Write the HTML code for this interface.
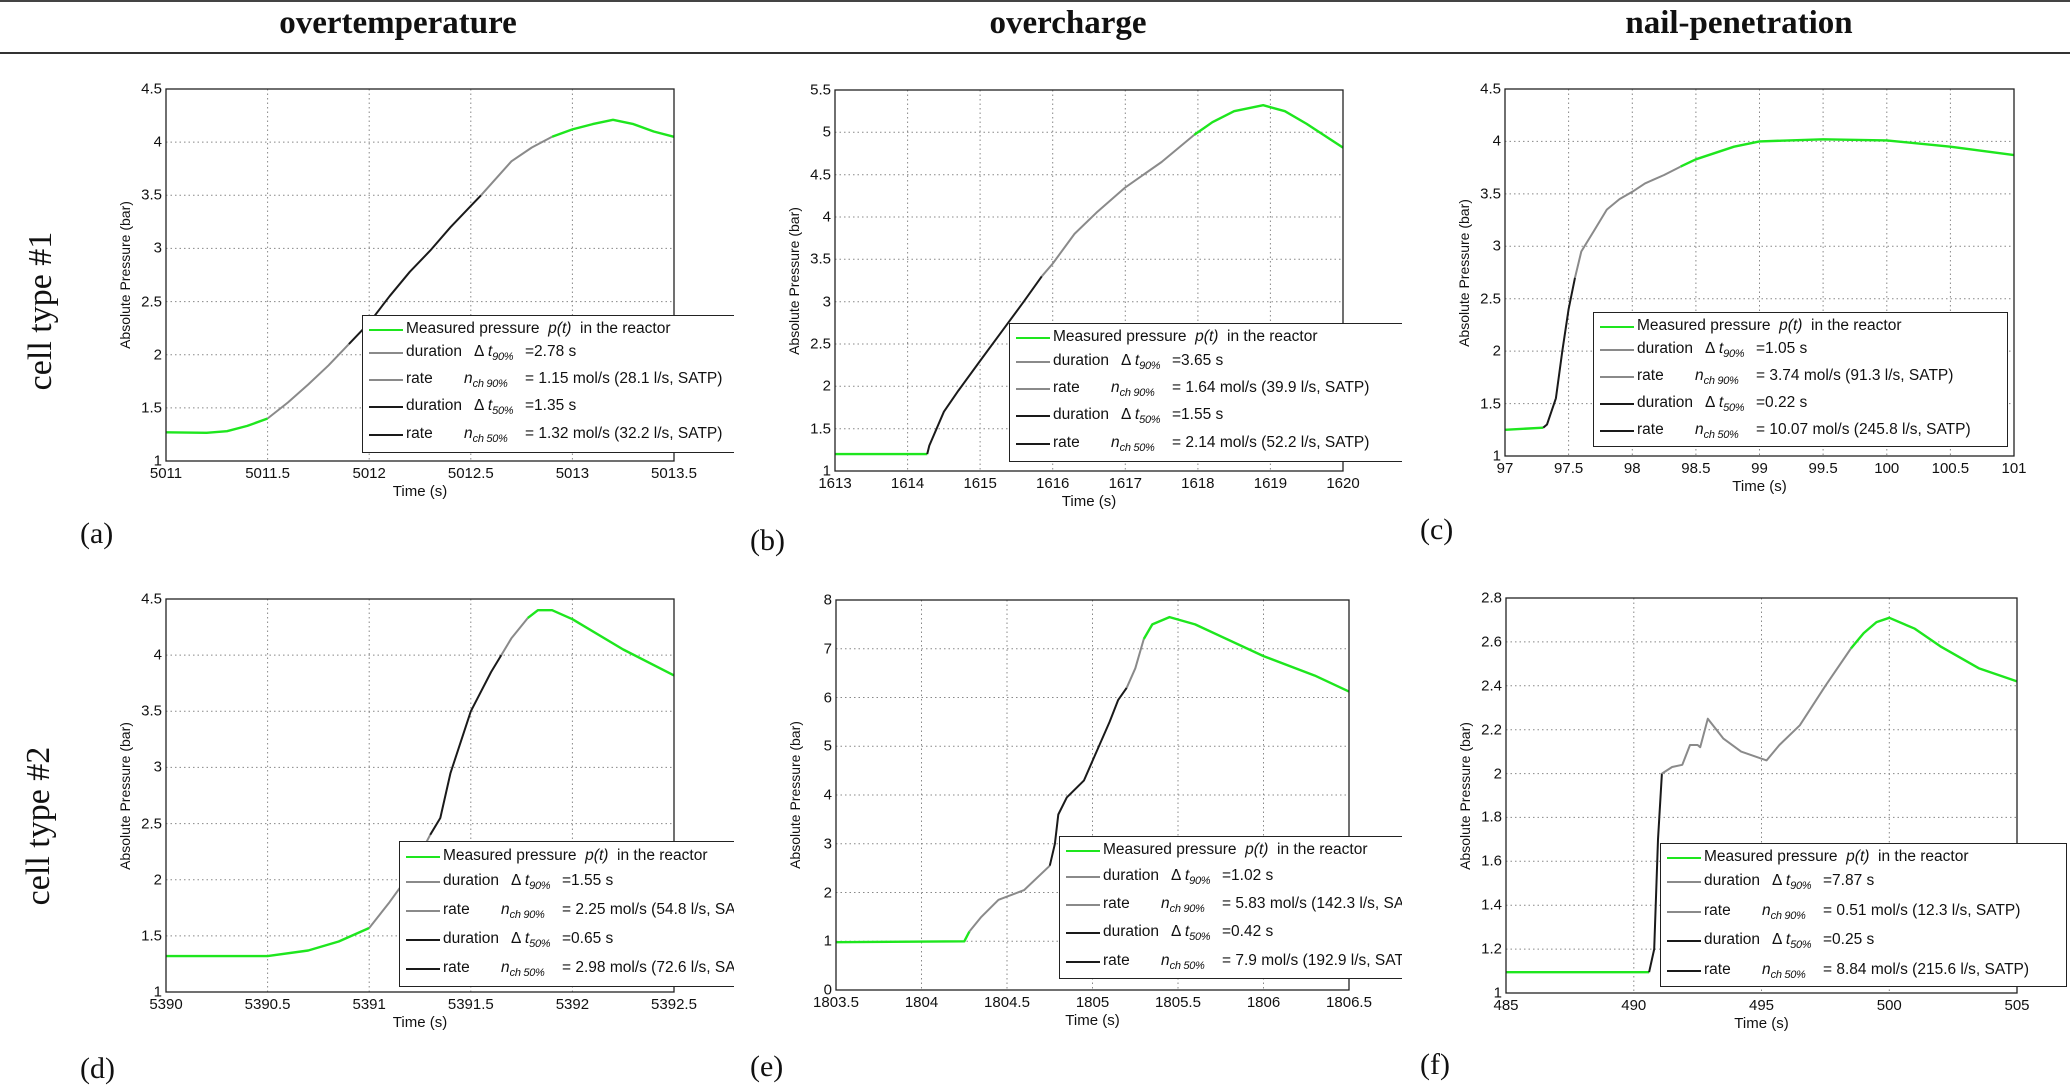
<!DOCTYPE html>
<html><head><meta charset="utf-8">
<style>
body{margin:0;width:2070px;height:1090px;position:relative;overflow:hidden;background:#fff;font-family:"Liberation Sans",Arial,sans-serif;color:#111}
.t{position:absolute;white-space:nowrap}
.yt,.xt{position:absolute;font-size:15px;white-space:nowrap;line-height:15px}
.yt{transform:translate(-100%,-50%)}
.xt{transform:translate(-50%,0)}
.xl{position:absolute;font-size:15px;transform:translate(-50%,0);white-space:nowrap}
.yl{position:absolute;font-size:14px;transform:translate(-50%,-50%) rotate(-90deg);white-space:nowrap}
.ttl{position:absolute;top:5px;font:bold 33px "Liberation Serif",serif;transform:translateX(-50%);white-space:nowrap}
.cell{position:absolute;font:34px "Liberation Serif",serif;transform:translate(-50%,-50%) rotate(-90deg);white-space:nowrap}
.lab{position:absolute;font:30px "Liberation Serif",serif;white-space:nowrap}
.lg{position:absolute;background:#fff;border:1.5px solid #222;overflow:hidden;font-size:15.5px;box-sizing:border-box}
.r{position:absolute;left:0;height:0;width:100%}
.r .ln{position:absolute;left:6px;width:34px;top:-1px;height:2px}
.r span{position:absolute;top:-10px;white-space:nowrap;line-height:18px}
.r .a{left:43px}.r .b{left:111px}.r .n{left:101px}.r .c{left:162px}
sub{font-size:11px;font-style:italic;position:relative;top:4px;vertical-align:baseline;letter-spacing:-0.3px}
i{font-style:italic}
</style></head><body>
<div style="position:absolute;left:0;top:0;width:2070px;height:2px;background:#444"></div>
<div style="position:absolute;left:0;top:52px;width:2070px;height:2px;background:#333"></div>
<div class="ttl" style="left:398px">overtemperature</div>
<div class="ttl" style="left:1068px">overcharge</div>
<div class="ttl" style="left:1739px">nail-penetration</div>
<div class="cell" style="left:41px;top:311px">cell type #1</div>
<div class="cell" style="left:39px;top:826px">cell type #2</div>
<div class="lab" style="left:80px;top:517px">(a)</div>
<div class="lab" style="left:750px;top:524px">(b)</div>
<div class="lab" style="left:1420px;top:513px">(c)</div>
<div class="lab" style="left:80px;top:1052px">(d)</div>
<div class="lab" style="left:750px;top:1050px">(e)</div>
<div class="lab" style="left:1420px;top:1048px">(f)</div>

<svg id="sv" width="2070" height="1090" style="position:absolute;left:0;top:0"></svg>

<div id="pa"><span class="yt">1</span><span class="yt">1.5</span><span class="yt">2</span><span class="yt">2.5</span><span class="yt">3</span><span class="yt">3.5</span><span class="yt">4</span><span class="yt">4.5</span>
<span class="xt">5011</span><span class="xt">5011.5</span><span class="xt">5012</span><span class="xt">5012.5</span><span class="xt">5013</span><span class="xt">5013.5</span>
<span class="xl">Time (s)</span><span class="yl">Absolute Pressure (bar)</span></div>
<div id="pb"><span class="yt">1</span><span class="yt">1.5</span><span class="yt">2</span><span class="yt">2.5</span><span class="yt">3</span><span class="yt">3.5</span><span class="yt">4</span><span class="yt">4.5</span><span class="yt">5</span><span class="yt">5.5</span>
<span class="xt">1613</span><span class="xt">1614</span><span class="xt">1615</span><span class="xt">1616</span><span class="xt">1617</span><span class="xt">1618</span><span class="xt">1619</span><span class="xt">1620</span>
<span class="xl">Time (s)</span><span class="yl">Absolute Pressure (bar)</span></div>
<div id="pc"><span class="yt">1</span><span class="yt">1.5</span><span class="yt">2</span><span class="yt">2.5</span><span class="yt">3</span><span class="yt">3.5</span><span class="yt">4</span><span class="yt">4.5</span>
<span class="xt">97</span><span class="xt">97.5</span><span class="xt">98</span><span class="xt">98.5</span><span class="xt">99</span><span class="xt">99.5</span><span class="xt">100</span><span class="xt">100.5</span><span class="xt">101</span>
<span class="xl">Time (s)</span><span class="yl">Absolute Pressure (bar)</span></div>
<div id="pd"><span class="yt">1</span><span class="yt">1.5</span><span class="yt">2</span><span class="yt">2.5</span><span class="yt">3</span><span class="yt">3.5</span><span class="yt">4</span><span class="yt">4.5</span>
<span class="xt">5390</span><span class="xt">5390.5</span><span class="xt">5391</span><span class="xt">5391.5</span><span class="xt">5392</span><span class="xt">5392.5</span>
<span class="xl">Time (s)</span><span class="yl">Absolute Pressure (bar)</span></div>
<div id="pe"><span class="yt">0</span><span class="yt">1</span><span class="yt">2</span><span class="yt">3</span><span class="yt">4</span><span class="yt">5</span><span class="yt">6</span><span class="yt">7</span><span class="yt">8</span>
<span class="xt">1803.5</span><span class="xt">1804</span><span class="xt">1804.5</span><span class="xt">1805</span><span class="xt">1805.5</span><span class="xt">1806</span><span class="xt">1806.5</span>
<span class="xl">Time (s)</span><span class="yl">Absolute Pressure (bar)</span></div>
<div id="pf"><span class="yt">1</span><span class="yt">1.2</span><span class="yt">1.4</span><span class="yt">1.6</span><span class="yt">1.8</span><span class="yt">2</span><span class="yt">2.2</span><span class="yt">2.4</span><span class="yt">2.6</span><span class="yt">2.8</span>
<span class="xt">485</span><span class="xt">490</span><span class="xt">495</span><span class="xt">500</span><span class="xt">505</span>
<span class="xl">Time (s)</span><span class="yl">Absolute Pressure (bar)</span></div>

<div class="lg" style="left:362px;top:315px;width:372px;height:138px;border-right:none">
<div class="r" style="top:14px"><div class="ln" style="background:#1ee61e"></div><span class="a">Measured pressure&nbsp; <i>p(t)</i>&nbsp; in the reactor</span></div>
<div class="r" style="top:37px"><div class="ln" style="background:#8a8a8a"></div><span class="a">duration</span><span class="b">Δ <i>t</i><sub>90%</sub></span><span class="c">=2.78 s</span></div>
<div class="r" style="top:64px"><div class="ln" style="background:#8a8a8a"></div><span class="a">rate</span><span class="n"><i>n</i><sub>ch 90%</sub></span><span class="c">= 1.15 mol/s (28.1 l/s, SATP)</span></div>
<div class="r" style="top:91px"><div class="ln" style="background:#1a1a1a"></div><span class="a">duration</span><span class="b">Δ <i>t</i><sub>50%</sub></span><span class="c">=1.35 s</span></div>
<div class="r" style="top:119px"><div class="ln" style="background:#1a1a1a"></div><span class="a">rate</span><span class="n"><i>n</i><sub>ch 50%</sub></span><span class="c">= 1.32 mol/s (32.2 l/s, SATP)</span></div>
</div>
<div class="lg" style="left:1009px;top:323px;width:393px;height:139px;border-right:none">
<div class="r" style="top:14px"><div class="ln" style="background:#1ee61e"></div><span class="a">Measured pressure&nbsp; <i>p(t)</i>&nbsp; in the reactor</span></div>
<div class="r" style="top:38px"><div class="ln" style="background:#8a8a8a"></div><span class="a">duration</span><span class="b">Δ <i>t</i><sub>90%</sub></span><span class="c">=3.65 s</span></div>
<div class="r" style="top:65px"><div class="ln" style="background:#8a8a8a"></div><span class="a">rate</span><span class="n"><i>n</i><sub>ch 90%</sub></span><span class="c">= 1.64 mol/s (39.9 l/s, SATP)</span></div>
<div class="r" style="top:92px"><div class="ln" style="background:#1a1a1a"></div><span class="a">duration</span><span class="b">Δ <i>t</i><sub>50%</sub></span><span class="c">=1.55 s</span></div>
<div class="r" style="top:120px"><div class="ln" style="background:#1a1a1a"></div><span class="a">rate</span><span class="n"><i>n</i><sub>ch 50%</sub></span><span class="c">= 2.14 mol/s (52.2 l/s, SATP)</span></div>
</div>
<div class="lg" style="left:1593px;top:312px;width:415px;height:135px">
<div class="r" style="top:14px"><div class="ln" style="background:#1ee61e"></div><span class="a">Measured pressure&nbsp; <i>p(t)</i>&nbsp; in the reactor</span></div>
<div class="r" style="top:37px"><div class="ln" style="background:#8a8a8a"></div><span class="a">duration</span><span class="b">Δ <i>t</i><sub>90%</sub></span><span class="c">=1.05 s</span></div>
<div class="r" style="top:64px"><div class="ln" style="background:#8a8a8a"></div><span class="a">rate</span><span class="n"><i>n</i><sub>ch 90%</sub></span><span class="c">= 3.74 mol/s (91.3 l/s, SATP)</span></div>
<div class="r" style="top:91px"><div class="ln" style="background:#1a1a1a"></div><span class="a">duration</span><span class="b">Δ <i>t</i><sub>50%</sub></span><span class="c">=0.22 s</span></div>
<div class="r" style="top:118px"><div class="ln" style="background:#1a1a1a"></div><span class="a">rate</span><span class="n"><i>n</i><sub>ch 50%</sub></span><span class="c">= 10.07 mol/s (245.8 l/s, SATP)</span></div>
</div>
<div class="lg" style="left:399px;top:841px;width:335px;height:146px;border-right:none">
<div class="r" style="top:15px"><div class="ln" style="background:#1ee61e"></div><span class="a">Measured pressure&nbsp; <i>p(t)</i>&nbsp; in the reactor</span></div>
<div class="r" style="top:40px"><div class="ln" style="background:#8a8a8a"></div><span class="a">duration</span><span class="b">Δ <i>t</i><sub>90%</sub></span><span class="c">=1.55 s</span></div>
<div class="r" style="top:69px"><div class="ln" style="background:#8a8a8a"></div><span class="a">rate</span><span class="n"><i>n</i><sub>ch 90%</sub></span><span class="c">= 2.25 mol/s (54.8 l/s, SATP)</span></div>
<div class="r" style="top:98px"><div class="ln" style="background:#1a1a1a"></div><span class="a">duration</span><span class="b">Δ <i>t</i><sub>50%</sub></span><span class="c">=0.65 s</span></div>
<div class="r" style="top:127px"><div class="ln" style="background:#1a1a1a"></div><span class="a">rate</span><span class="n"><i>n</i><sub>ch 50%</sub></span><span class="c">= 2.98 mol/s (72.6 l/s, SATP)</span></div>
</div>
<div class="lg" style="left:1059px;top:836px;width:343px;height:143px;border-right:none">
<div class="r" style="top:14px"><div class="ln" style="background:#1ee61e"></div><span class="a">Measured pressure&nbsp; <i>p(t)</i>&nbsp; in the reactor</span></div>
<div class="r" style="top:40px"><div class="ln" style="background:#8a8a8a"></div><span class="a">duration</span><span class="b">Δ <i>t</i><sub>90%</sub></span><span class="c">=1.02 s</span></div>
<div class="r" style="top:68px"><div class="ln" style="background:#8a8a8a"></div><span class="a">rate</span><span class="n"><i>n</i><sub>ch 90%</sub></span><span class="c">= 5.83 mol/s (142.3 l/s, SATP)</span></div>
<div class="r" style="top:96px"><div class="ln" style="background:#1a1a1a"></div><span class="a">duration</span><span class="b">Δ <i>t</i><sub>50%</sub></span><span class="c">=0.42 s</span></div>
<div class="r" style="top:125px"><div class="ln" style="background:#1a1a1a"></div><span class="a">rate</span><span class="n"><i>n</i><sub>ch 50%</sub></span><span class="c">= 7.9 mol/s (192.9 l/s, SATP)</span></div>
</div>
<div class="lg" style="left:1660px;top:843px;width:407px;height:144px">
<div class="r" style="top:14px"><div class="ln" style="background:#1ee61e"></div><span class="a">Measured pressure&nbsp; <i>p(t)</i>&nbsp; in the reactor</span></div>
<div class="r" style="top:38px"><div class="ln" style="background:#8a8a8a"></div><span class="a">duration</span><span class="b">Δ <i>t</i><sub>90%</sub></span><span class="c">=7.87 s</span></div>
<div class="r" style="top:68px"><div class="ln" style="background:#8a8a8a"></div><span class="a">rate</span><span class="n"><i>n</i><sub>ch 90%</sub></span><span class="c">= 0.51 mol/s (12.3 l/s, SATP)</span></div>
<div class="r" style="top:97px"><div class="ln" style="background:#1a1a1a"></div><span class="a">duration</span><span class="b">Δ <i>t</i><sub>50%</sub></span><span class="c">=0.25 s</span></div>
<div class="r" style="top:127px"><div class="ln" style="background:#1a1a1a"></div><span class="a">rate</span><span class="n"><i>n</i><sub>ch 50%</sub></span><span class="c">= 8.84 mol/s (215.6 l/s, SATP)</span></div>
</div>

<script>
var G='#1ee61e',Y='#8a8a8a',K='#1a1a1a';
var P=[
{id:'pa',L:166,T:89,R:674,B:461,x0:5011,x1:5013.5,xt:[5011,5011.5,5012,5012.5,5013,5013.5],y0:1,y1:4.5,yt:[1,1.5,2,2.5,3,3.5,4,4.5],
s:[[G,[5011,1.27,5011.2,1.265,5011.3,1.28,5011.4,1.33,5011.5,1.4]],[Y,[5011.5,1.4,5011.6,1.55,5011.7,1.72,5011.8,1.9,5011.9,2.1]],
[K,[5011.9,2.1,5012,2.3,5012.1,2.55,5012.2,2.78,5012.3,2.98,5012.4,3.2,5012.5,3.4,5012.55,3.5]],
[Y,[5012.55,3.5,5012.7,3.82,5012.8,3.95,5012.9,4.05]],[G,[5012.9,4.05,5013,4.12,5013.1,4.17,5013.2,4.21,5013.3,4.17,5013.4,4.1,5013.5,4.05]]]},
{id:'pb',L:835,T:90,R:1343,B:471,x0:1613,x1:1620,xt:[1613,1614,1615,1616,1617,1618,1619,1620],y0:1,y1:5.5,yt:[1,1.5,2,2.5,3,3.5,4,4.5,5,5.5],
s:[[G,[1613,1.2,1614.27,1.2]],[K,[1614.27,1.2,1614.3,1.3,1614.5,1.7,1614.7,1.95,1615,2.3,1615.3,2.65,1615.6,3.0,1615.85,3.3]],
[Y,[1615.85,3.3,1616,3.45,1616.3,3.8,1616.6,4.05,1617,4.35,1617.5,4.65,1617.95,4.97]],[G,[1617.95,4.97,1618.2,5.12,1618.5,5.25,1618.9,5.32,1619.2,5.25,1619.5,5.1,1620,4.82]]]},
{id:'pc',L:1505,T:89,R:2014,B:456,x0:97,x1:101,xt:[97,97.5,98,98.5,99,99.5,100,100.5,101],y0:1,y1:4.5,yt:[1,1.5,2,2.5,3,3.5,4,4.5],
s:[[G,[97,1.25,97.3,1.27]],[K,[97.3,1.27,97.33,1.3,97.4,1.55,97.45,2.0,97.5,2.4,97.55,2.7]],
[Y,[97.55,2.7,97.6,2.95,97.7,3.15,97.8,3.35,97.9,3.45,98,3.52,98.1,3.6,98.25,3.68,98.38,3.76]],[G,[98.38,3.76,98.5,3.83,98.8,3.95,99,4.0,99.5,4.02,100,4.01,100.5,3.95,101,3.87]]]},
{id:'pd',L:166,T:599,R:674,B:992,x0:5390,x1:5392.5,xt:[5390,5390.5,5391,5391.5,5392,5392.5],y0:1,y1:4.5,yt:[1,1.5,2,2.5,3,3.5,4,4.5],
s:[[G,[5390,1.32,5390.5,1.32,5390.7,1.37,5390.85,1.45,5391,1.57]],[Y,[5391,1.57,5391.1,1.8,5391.2,2.05,5391.3,2.4]],
[K,[5391.3,2.4,5391.35,2.55,5391.4,2.95,5391.5,3.5,5391.6,3.85,5391.65,4.0]],[Y,[5391.65,4.0,5391.7,4.15,5391.78,4.33]],
[G,[5391.78,4.33,5391.83,4.4,5391.9,4.4,5392,4.32,5392.25,4.05,5392.5,3.82]]]},
{id:'pe',L:836,T:600,R:1349,B:990,x0:1803.5,x1:1806.5,xt:[1803.5,1804,1804.5,1805,1805.5,1806,1806.5],y0:0,y1:8,yt:[0,1,2,3,4,5,6,7,8],
s:[[G,[1803.5,0.98,1804.25,1.0,1804.28,1.2]],[Y,[1804.28,1.2,1804.35,1.5,1804.45,1.85,1804.6,2.05,1804.75,2.55]],
[K,[1804.75,2.55,1804.78,3.0,1804.8,3.6,1804.85,3.95,1804.95,4.3,1805,4.7,1805.1,5.5,1805.15,5.95,1805.2,6.2]],
[Y,[1805.2,6.2,1805.25,6.6,1805.3,7.2]],[G,[1805.3,7.2,1805.35,7.5,1805.45,7.65,1805.6,7.5,1806,6.85,1806.3,6.45,1806.5,6.12]]]},
{id:'pf',L:1506,T:598,R:2017,B:993,x0:485,x1:505,xt:[485,490,495,500,505],y0:1,y1:2.8,yt:[1,1.2,1.4,1.6,1.8,2,2.2,2.4,2.6,2.8],
s:[[G,[485,1.095,490.6,1.095]],[K,[490.6,1.095,490.8,1.2,490.95,1.7,491.1,2.0]],
[Y,[491.1,2.0,491.5,2.03,491.9,2.04,492.2,2.13,492.5,2.13,492.6,2.12,492.9,2.25,493.5,2.16,494.2,2.1,495.2,2.06,495.7,2.13,496.5,2.22,497.5,2.4,498.5,2.57]],
[G,[498.5,2.57,499,2.64,499.5,2.69,500,2.71,501,2.66,502,2.58,503.5,2.48,505,2.42]]]}
];
var sv=document.getElementById('sv'),h='';
P.forEach(function(p){
 function X(v){return p.L+(v-p.x0)/(p.x1-p.x0)*(p.R-p.L);}
 function Yp(v){return p.B-(v-p.y0)/(p.y1-p.y0)*(p.B-p.T);}
 p.xt.forEach(function(v){var x=X(v).toFixed(1);if(v>p.x0&&v<p.x1)h+='<line x1="'+x+'" x2="'+x+'" y1="'+p.T+'" y2="'+p.B+'" stroke="#888" stroke-dasharray="1.5,3"/>';});
 p.yt.forEach(function(v){var y=Yp(v).toFixed(1);if(v>p.y0&&v<p.y1)h+='<line x1="'+p.L+'" x2="'+p.R+'" y1="'+y+'" y2="'+y+'" stroke="#888" stroke-dasharray="1.5,3"/>';});
 p.s.forEach(function(s){var d=[];for(var i=0;i<s[1].length;i+=2)d.push(X(s[1][i]).toFixed(1)+','+Yp(s[1][i+1]).toFixed(1));
  h+='<polyline points="'+d.join(' ')+'" fill="none" stroke="'+s[0]+'" stroke-width="'+(s[0]==G?2.4:2)+'" stroke-linejoin="round"/>';});
 h+='<rect x="'+p.L+'" y="'+p.T+'" width="'+(p.R-p.L)+'" height="'+(p.B-p.T)+'" fill="none" stroke="#222" stroke-width="1.3"/>';
 var el=document.getElementById(p.id);
 var ys=el.querySelectorAll('.yt');for(var i=0;i<ys.length;i++){ys[i].style.left=(p.L-4)+'px';ys[i].style.top=Yp(p.yt[i])+'px';}
 var xs=el.querySelectorAll('.xt');for(var i=0;i<xs.length;i++){xs[i].style.left=X(p.xt[i])+'px';xs[i].style.top=(p.B+5)+'px';}
 var xl=el.querySelector('.xl');xl.style.left=((p.L+p.R)/2)+'px';xl.style.top=(p.B+22)+'px';
 var yl=el.querySelector('.yl');yl.style.left=(p.L-41)+'px';yl.style.top=((p.T+p.B)/2)+'px';
});
sv.innerHTML=h;
</script>
</body></html>
